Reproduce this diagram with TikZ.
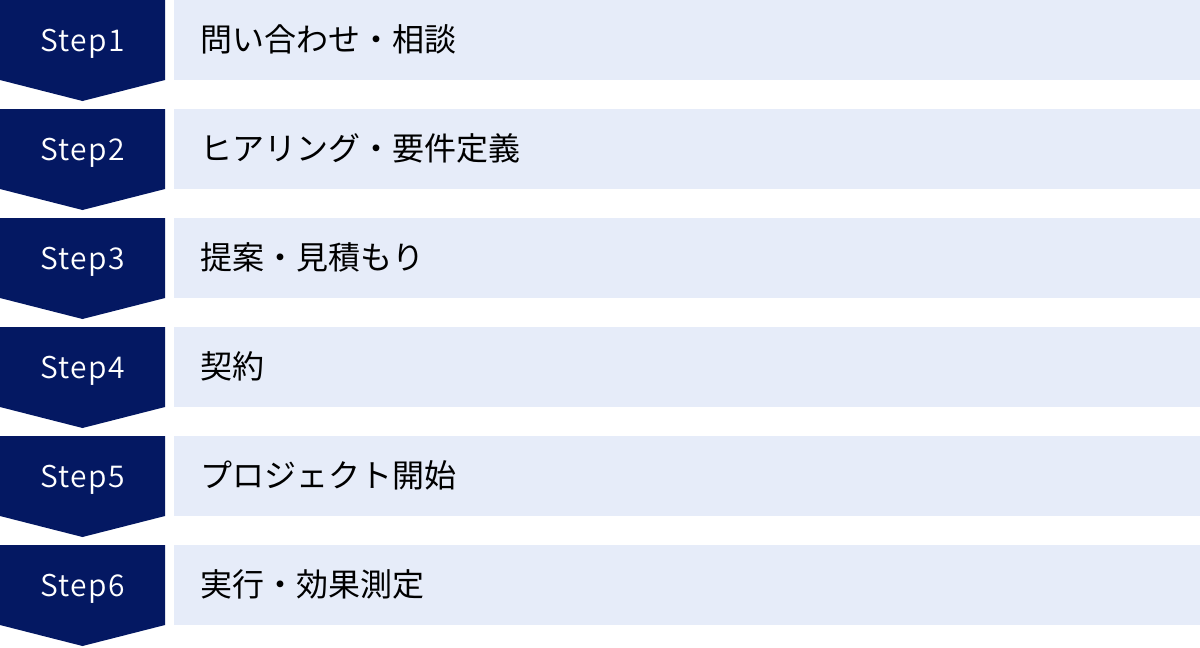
\documentclass[tikz,border=0pt]{standalone}
\usepackage{fontspec}
\setmainfont{Noto Sans}
\newfontfamily\jpfont{Noto Sans CJK JP}
\newfontfamily\stepfont[LetterSpace=5]{Noto Sans CJK JP DemiLight}
\definecolor{navy}{HTML}{041862}
\definecolor{pale}{HTML}{E6ECF9}
\tikzset{
  chev/.style={fill=navy},
  band/.style={fill=pale},
  steplabel/.style={text=white,font=\stepfont\fontsize{22.5pt}{26pt}\selectfont,inner sep=0pt,anchor=base},
  jplabel/.style={text=black,font=\jpfont\fontsize{24pt}{28pt}\selectfont,inner sep=0pt,anchor=base west}
}
\begin{document}
\begin{tikzpicture}[x=0.75pt,y=-0.75pt]
\useasboundingbox (0,0) rectangle (1200,647);
\foreach \i/\txt in {0/問い合わせ・相談,1/ヒアリング・要件定義,2/提案・見積もり,3/契約,4/プロジェクト開始,5/実行・効果測定}{
  \pgfmathsetmacro{\t}{109*\i}
  \fill[chev] (0,\t) -- (165,\t) -- (165,\t+80) -- (82.5,\t+101) -- (0,\t+80) -- cycle;
  \fill[band] (174,\t) rectangle (1200,\t+80);
  \pgfmathtruncatemacro{\n}{\i+1}
  \node[steplabel] (step\n) at (82.5,\t+51.5) {Step\n};
  \node[jplabel] (lab\n) at (200,\t+51.5) {\txt};
}
\end{tikzpicture}
\end{document}
